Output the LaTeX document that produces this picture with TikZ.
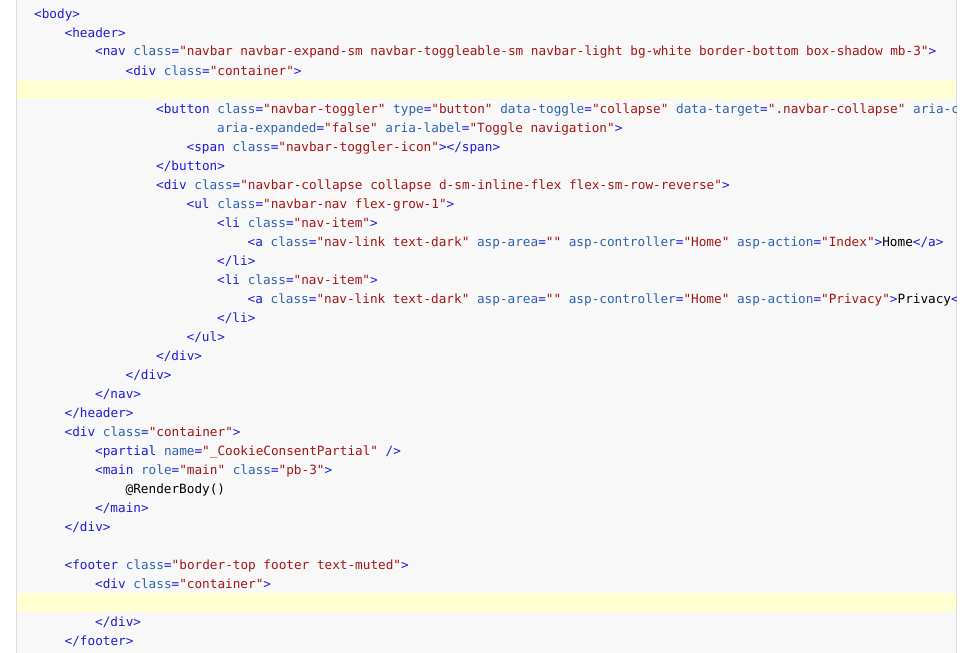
\documentclass[tikz,border=0pt]{standalone}
\usepackage{fontspec}
\setmonofont{DejaVu Sans Mono}
\definecolor{tagc}{HTML}{1C1CD6}
\definecolor{attc}{HTML}{2B63B0}
\definecolor{strc}{HTML}{A31515}
\definecolor{bgc}{HTML}{F8F8F8}
\definecolor{hlc}{HTML}{FFFFD2}
\definecolor{brd}{HTML}{DCDCDC}
\newcommand\Tg[1]{\textcolor{tagc}{#1}}
\newcommand\At[1]{\textcolor{attc}{#1}}
\newcommand\St[1]{\textcolor{strc}{#1}}
\tikzset{codeline/.style={anchor=base west,inner sep=0pt,font=\ttfamily\fontsize{12.7}{14}\selectfont}}
\begin{document}
\begin{tikzpicture}[x=1pt,y=-1pt]
\useasboundingbox (0,0) rectangle (978,653);
\fill[bgc] (16,0) rectangle (956,653);
\fill[hlc] (17,80) rectangle (956,98.5);
\fill[hlc] (17,593) rectangle (956,611.5);
\draw[brd] (16.5,0) -- (16.5,653);
\draw[brd] (956.5,0) -- (956.5,653);
\begin{scope}
\clip (17,0) rectangle (956,653);
\newcommand\CL[4]{\node[codeline] (#1) at ({34+30.5*#2},{#3+4.5}) {#4};}
\CL{l1}{0}{14}{\Tg{<body>}}
\CL{l2}{1}{32.5}{\Tg{<header>}}
\CL{l3}{2}{51.5}{\Tg{<nav} \At{class}\Tg{=}\St{"navbar navbar-expand-sm navbar-toggleable-sm navbar-light bg-white border-bottom box-shadow mb-3"}\Tg{>}}
\CL{l4}{3}{70.5}{\Tg{<div} \At{class}\Tg{=}\St{"container"}\Tg{>}}
\CL{l6}{4}{108.5}{\Tg{<button} \At{class}\Tg{=}\St{"navbar-toggler"} \At{type}\Tg{=}\St{"button"} \At{data-toggle}\Tg{=}\St{"collapse"} \At{data-target}\Tg{=}\St{".navbar-collapse"} \At{aria-controls}\Tg{=}\St{"navbarSupportedContent"}}
\CL{l7}{6}{127.5}{\At{aria-expanded}\Tg{=}\St{"false"} \At{aria-label}\Tg{=}\St{"Toggle navigation"}\Tg{>}}
\CL{l8}{5}{146.5}{\Tg{<span} \At{class}\Tg{=}\St{"navbar-toggler-icon"}\Tg{></span>}}
\CL{l9}{4}{165.5}{\Tg{</button>}}
\CL{l10}{4}{184.5}{\Tg{<div} \At{class}\Tg{=}\St{"navbar-collapse collapse d-sm-inline-flex flex-sm-row-reverse"}\Tg{>}}
\CL{l11}{5}{203.5}{\Tg{<ul} \At{class}\Tg{=}\St{"navbar-nav flex-grow-1"}\Tg{>}}
\CL{l12}{6}{222.5}{\Tg{<li} \At{class}\Tg{=}\St{"nav-item"}\Tg{>}}
\CL{l13}{7}{241.5}{\Tg{<a} \At{class}\Tg{=}\St{"nav-link text-dark"} \At{asp-area}\Tg{=}\St{""} \At{asp-controller}\Tg{=}\St{"Home"} \At{asp-action}\Tg{=}\St{"Index"}\Tg{>}Home\Tg{</a>}}
\CL{l14}{6}{260.5}{\Tg{</li>}}
\CL{l15}{6}{279.5}{\Tg{<li} \At{class}\Tg{=}\St{"nav-item"}\Tg{>}}
\CL{l16}{7}{298.5}{\Tg{<a} \At{class}\Tg{=}\St{"nav-link text-dark"} \At{asp-area}\Tg{=}\St{""} \At{asp-controller}\Tg{=}\St{"Home"} \At{asp-action}\Tg{=}\St{"Privacy"}\Tg{>}Privacy\Tg{</a>}}
\CL{l17}{6}{317.5}{\Tg{</li>}}
\CL{l18}{5}{336.5}{\Tg{</ul>}}
\CL{l19}{4}{355.5}{\Tg{</div>}}
\CL{l20}{3}{374.5}{\Tg{</div>}}
\CL{l21}{2}{393.5}{\Tg{</nav>}}
\CL{l22}{1}{412.5}{\Tg{</header>}}
\CL{l23}{1}{431.5}{\Tg{<div} \At{class}\Tg{=}\St{"container"}\Tg{>}}
\CL{l24}{2}{450.5}{\Tg{<partial} \At{name}\Tg{=}\St{"\_CookieConsentPartial"} \Tg{/>}}
\CL{l25}{2}{469.5}{\Tg{<main} \At{role}\Tg{=}\St{"main"} \At{class}\Tg{=}\St{"pb-3"}\Tg{>}}
\CL{l26}{3}{488.5}{@RenderBody()}
\CL{l27}{2}{507.5}{\Tg{</main>}}
\CL{l28}{1}{526.5}{\Tg{</div>}}
\CL{l30}{1}{564.5}{\Tg{<footer} \At{class}\Tg{=}\St{"border-top footer text-muted"}\Tg{>}}
\CL{l31}{2}{583.5}{\Tg{<div} \At{class}\Tg{=}\St{"container"}\Tg{>}}
\CL{l33}{2}{621.5}{\Tg{</div>}}
\CL{l34}{1}{640.5}{\Tg{</footer>}}
\end{scope}
\end{tikzpicture}
\end{document}
